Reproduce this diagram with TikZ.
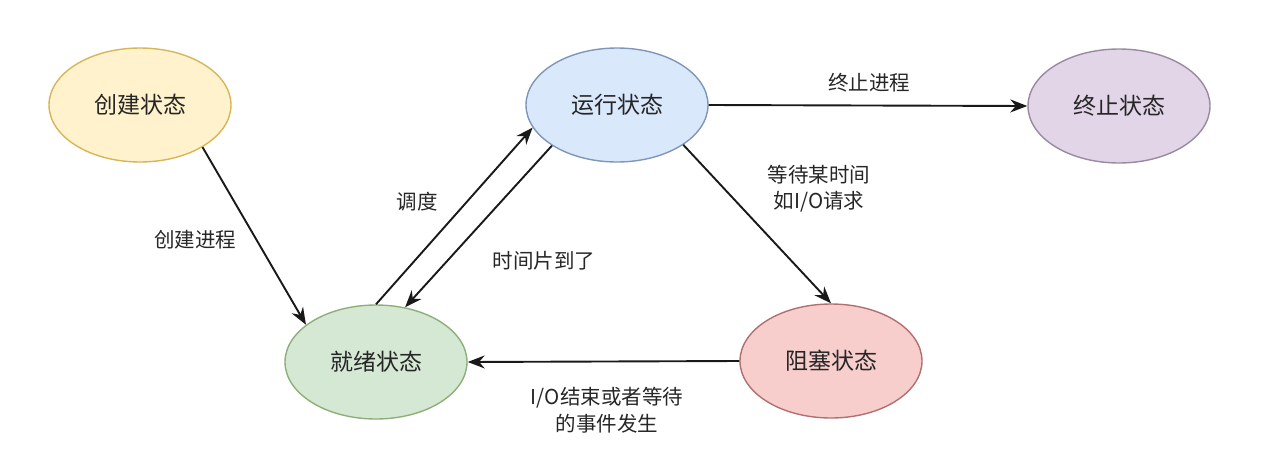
\documentclass[tikz,border=0pt]{standalone}
\usepackage{fontspec}
\setmainfont{Noto Sans CJK SC}
\usetikzlibrary{arrows.meta,shapes.geometric}
\definecolor{yfill}{HTML}{FFF2CC}\definecolor{ydraw}{HTML}{D6B656}
\definecolor{bfill}{HTML}{DAE8FC}\definecolor{bdraw}{HTML}{7F96B8}
\definecolor{pfill}{HTML}{E1D5E7}\definecolor{pdraw}{HTML}{9A8AA0}
\definecolor{gfill}{HTML}{D5E8D4}\definecolor{gdraw}{HTML}{8FAE7A}
\definecolor{rfill}{HTML}{F8CECC}\definecolor{rdraw}{HTML}{B07070}
\definecolor{txt}{HTML}{262626}
\tikzset{
  state/.style={ellipse,minimum width=182pt,minimum height=114pt,line width=1.4pt,inner sep=0pt,text=txt,font=\fontsize{23}{27}\selectfont},
  lbl/.style={text=txt,font=\fontsize{20.5}{26}\selectfont,align=center,inner sep=0pt},
  arr/.style={line width=1.9pt,-{Stealth[length=17pt,width=13pt]},black!90}
}
\begin{document}
\begin{tikzpicture}[x=1pt,y=-1pt]
\useasboundingbox (0,0) rectangle (1262,469);
\node[state,fill=yfill,draw=ydraw] (create) at (140,105) {创建状态};
\node[state,fill=bfill,draw=bdraw] (run) at (617,105) {运行状态};
\node[state,fill=pfill,draw=pdraw] (term) at (1119,106) {终止状态};
\node[state,fill=gfill,draw=gdraw] (ready) at (376,362) {就绪状态};
\node[state,fill=rfill,draw=rdraw] (block) at (831,361) {阻塞状态};

\draw[arr] (create.326) -- (ready.152);
\draw[arr] (ready.90) -- (run.195);
\draw[arr] (run.212) -- (ready.62);
\draw[arr] (run.east) -- (term.west);
\draw[arr] (run.329) -- (block.90);
\draw[arr] (block.west) -- (ready.east);

\node[lbl] (l1) at (195,240) {创建进程};
\node[lbl] (l2) at (417,202) {调度};
\node[lbl] (l3) at (544,261) {时间片到了};
\node[lbl] (l4) at (869,83) {终止进程};
\node[lbl] (l5) at (819,189) {等待某时间\\如I/O请求};
\node[lbl] (l6) at (607,410) {I/O结束或者等待\\[1pt]的事件发生};
\end{tikzpicture}
\end{document}
